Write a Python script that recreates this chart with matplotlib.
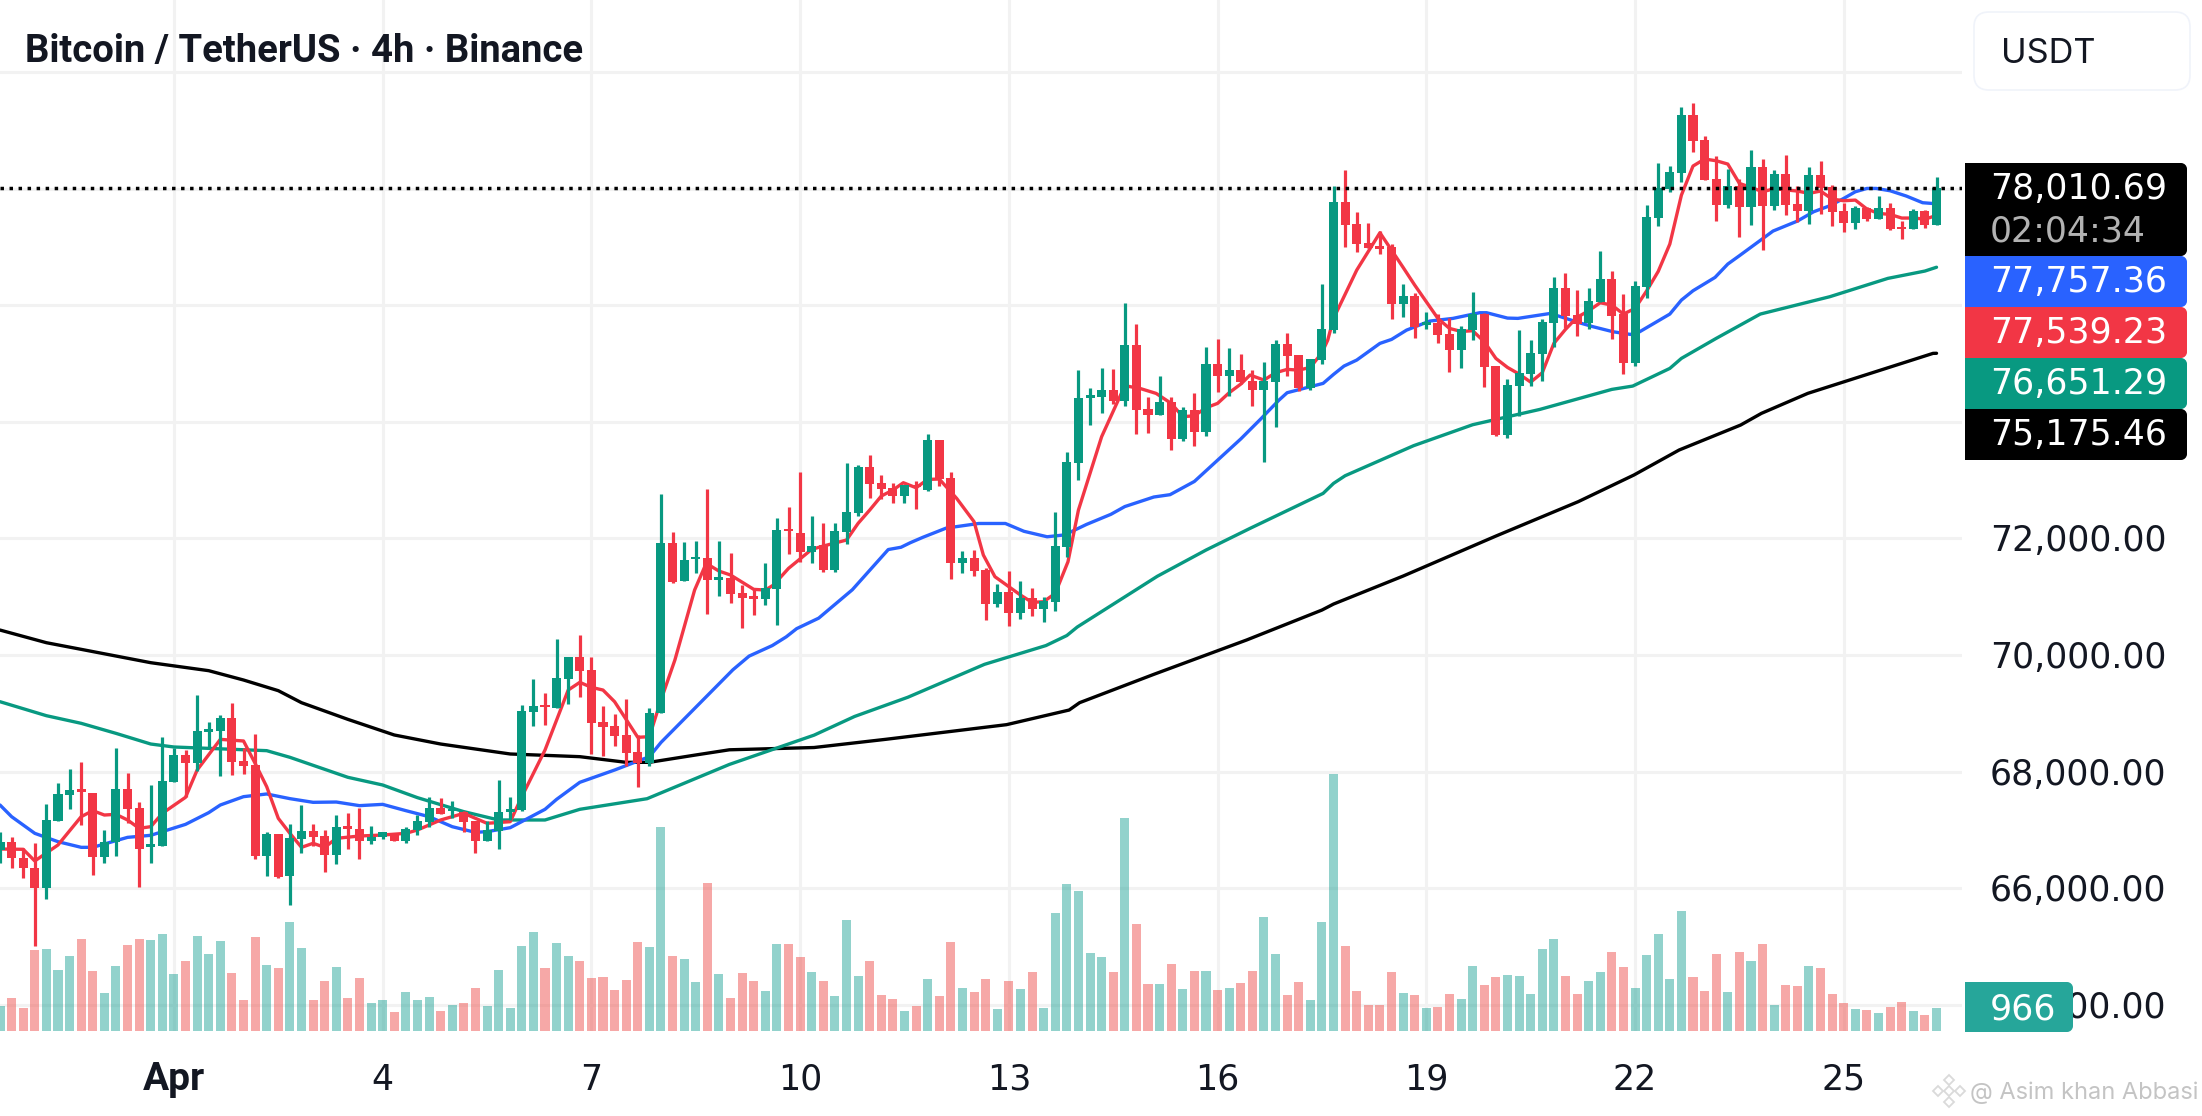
import matplotlib
matplotlib.use("Agg")
import matplotlib.pyplot as plt
from matplotlib.path import Path
from matplotlib.patches import PathPatch, Polygon, FancyBboxPatch

# ---------- candles (one value per 4h bar) ----------
opens = [66655,66798,66512,66341,65998,67158,67604,67696,67627,66541,66787,67701,67370,66712,66730,67827,68285,68153,68679,68702,
68925,68182,68113,66558,66930,66215,66850,66981,66895,66569,67067,67010,66815,66872,66953,66810,66998,67141,67375,67318,
67307,67153,66815,66975,67307,67341,69028,69136,69085,69588,69965,69742,68851,68782,68628,68336,68142,69005,71920,71274,
71640,71663,71292,71320,71063,71011,70960,71137,72166,72092,71766,71886,71457,72109,72435,73224,72949,72864,72727,72915,
72829,73687,73035,71577,71663,71463,70874,71080,70720,70977,70788,70908,71852,73292,74413,74424,74544,74356,75316,74218,
74116,74339,73704,74201,73824,74990,74784,74887,74699,74544,74682,75333,75145,74579,75059,75573,77769,77391,77065,77014,
76997,76019,76156,75665,75693,75505,75230,75573,75853,74956,73772,74613,74819,75162,75693,76294,75831,75693,76054,76448,
75848,75008,76311,77495,77992,78266,79261,78832,78164,77718,78044,77683,78369,77700,78249,77735,77615,78232,78021,77615,
77409,77666,77477,77666,77340,77306,77615,77375]
highs = [66970,66872,66684,66781,67444,67799,68044,68159,67627,67000,68399,67970,67484,67770,68588,68399,68370,69308,68856,68971,
69171,68399,68639,66958,66930,67101,67427,67101,66998,67255,67284,67375,67067,66970,66953,67044,67255,67570,67541,67496,
67330,67153,67158,67856,67558,69136,69588,69342,70268,69965,70343,69960,69125,68982,69245,68628,69096,72761,72109,71938,
71955,72847,71955,71749,71200,71126,71572,72343,72538,73138,72384,72263,72263,73293,73258,73430,73087,72949,72915,72984,
73790,73687,73138,71783,71800,71486,71217,71440,71269,71149,70994,72452,73481,74887,74579,74922,74905,76036,75676,74424,
74784,74424,74253,74493,75282,75419,75265,75162,74887,75025,75402,75522,75145,75076,76362,78043,78317,77597,77408,77271,
77048,76362,76208,75882,75848,75779,75642,76225,75865,74956,74733,75573,75402,75762,76482,76551,76259,76294,76928,76586,
76191,76414,77718,78438,78387,79398,79467,78901,78558,78335,78164,78661,78507,78318,78575,78044,78369,78472,78061,77752,
77700,77683,77872,77752,77443,77649,77632,78198]
lows = [66427,66341,66169,65014,65809,67158,67364,67084,66226,66427,66558,67113,66015,66438,66730,67827,67570,68016,68410,67930,
67947,67959,66507,66215,66181,65712,66609,66724,66284,66415,66672,66507,66758,66838,66815,66781,66912,67044,67273,67198,
66964,66609,66815,66672,67170,67330,68782,68799,69085,69159,69285,68302,68267,68439,68096,67741,68096,69005,71234,71274,
71412,70708,71017,70897,70468,70686,70863,70520,71732,71600,71583,71429,71429,71903,72389,72692,72675,72606,72606,72504,
72812,72898,71303,71406,71354,70600,70823,70497,70617,70668,70565,70754,71680,72999,73944,74150,74304,74270,73790,73807,
74116,73515,73670,73584,73755,74510,74441,74647,74270,73309,73910,74784,74527,74544,74990,75522,77003,76911,76980,76877,
75762,75796,75436,75590,75350,74853,74921,75402,74596,73755,73721,74098,74613,74699,75282,75608,75470,75590,76054,75419,
74819,74956,76123,77357,77941,78112,78627,78146,77443,77666,77169,77375,76946,77632,77546,77426,77392,77563,77357,77255,
77306,77443,77477,77289,77134,77306,77323,77375]
closes = [66798,66512,66341,65998,67170,67616,67684,67656,66541,66787,67701,67353,66678,66758,67839,68285,68153,68696,68731,68925,
68170,68102,66552,66930,66198,66861,66981,66884,66569,67044,67010,66815,66872,66958,66815,67016,67153,67375,67273,67353,
67141,66815,66998,67307,67353,69039,69125,69102,69605,69965,69731,68839,68765,68610,68313,68142,69000,71920,71257,71629,
71686,71292,71337,71051,70983,70966,71149,72143,72120,71766,71869,71457,72126,72452,73224,72932,72847,72727,72915,72881,
73687,73018,71577,71663,71434,70874,71080,70720,70977,70788,70926,71869,73310,74407,74459,74544,74356,75316,74201,74116,
74339,73704,74201,73824,74990,74784,74887,74682,74544,74699,75333,75128,74579,75076,75591,77769,77374,77048,76980,76963,
76019,76156,75625,75711,75488,75230,75590,75853,74939,73772,74630,74836,75179,75711,76294,75813,75676,76071,76448,75814,
75008,76328,77512,78009,78284,79261,78815,78146,77718,78044,77683,78369,77700,78249,77718,77615,78232,78009,77598,77409,
77666,77477,77666,77306,77300,77615,77375,78010.69]
volumes = [1036,1372,952,3388,3430,2548,3136,3850,2506,1582,2716,3598,3850,3808,4060,2380,2926,3976,3220,3766,
2422,1288,3934,2758,2632,4564,3472,1288,2086,2674,1372,2212,1162,1288,784,1624,1288,1414,826,1078,
1162,1792,1036,2548,952,3556,4144,2632,3682,3136,2926,2212,2254,1708,2128,3724,3514,8554,3136,3034,
2074,6221,2400,1402,2438,2112,1690,3667,3667,3110,2496,2112,1478,4666,2323,2957,1517,1344,845,1056,
2189,1478,3744,1824,1651,2189,941,2112,1766,2496,979,4973,6182,5894,3283,3110,2496,8928,4493,1978,
1978,2822,1766,2534,2534,1728,1824,2016,2520,4788,3234,1512,2058,1302,4578,10794,3570,1680,1092,1092,
2478,1596,1512,966,1008,1554,1344,2730,1932,2268,2352,2310,1554,3444,3864,2310,1554,2100,2478,3318,
2688,1806,3192,4074,2184,5040,2268,1680,3234,1638,3318,2940,3654,1092,1932,1890,2730,2646,1554,1176,
924,882,756,1008,1218,840,672,966]

# ---------- moving averages: bar number, price ----------
black_bar = [0,4,7,13,18,21,24,26,30,34,38,44,50,54,56,60,62.9,70.2,76.4,86.8,92.2,93.1,99.5,107.5,114,115,121,129,136.1,140.9,144.8,150.1,151.9,155.9,166.7,167]
black_px = [70428,70211,70097,69868,69731,69571,69388,69182,68896,68628,68473,68302,68256,68159,68159,68285,68374,68413,68554,68805,69056,69182,69668,70257,70771,70874,71354,72040,72630,73087,73516,73944,74145,74488,75174,75175.46]
green_bar = [0,4,7,10,13,15,23,25,30,33,36,40,43,47,50,55.8,62.9,70.2,73.7,78.3,84.9,90.2,92,92.9,99.8,104,107.8,114.1,115,116,121.9,127,132.8,139,140.8,144,145,148,151.8,157.8,162.8,166,167]
green_px = [69199,68959,68828,68656,68473,68422,68359,68245,67902,67770,67553,67313,67170,67170,67353,67535,68123,68625,68946,69276,69840,70162,70334,70480,71350,71800,72172,72772,72944,73075,73590,73950,74213,74556,74613,74916,75088,75431,75848,76146,76460,76586,76651.29]
blue_bar = [0,1,3,5,7,8,10,11,13,16,18,19,21,23,25,27,29,31,33,35,37,39,41,42,44,47,48,50,53,56,57,63.2,64.6,66.6,67.8,68.7,70.6,73.5,76.6,77.7,78.5,79.6,81.6,84.4,86.7,88.3,90.3,91.8,93.7,95.8,97,99.5,100.9,103,107,108.7,110.3,111,114.1,115,115.9,117,119,120,121.3,123.3,125.3,127.6,128.2,130,130.9,133.7,136.2,137.4,139.1,140.6,141.4,144,145,146,147.9,149,150,152.9,155,156.4,157.8,159,160,161,161.8,163,164.4,165.8,166.6,167]
blue_px = [67427,67227,66941,66798,66701,66701,66815,66872,66907,67095,67296,67427,67570,67616,67536,67473,67478,67416,67438,67330,67227,67055,66958,66970,67038,67353,67524,67816,68027,68256,68500,69746,69981,70162,70311,70452,70632,71119,71809,71848,71926,72020,72177,72256,72256,72122,72028,72060,72240,72413,72546,72710,72750,72977,73706,74044,74373,74499,74659,74813,74956,75059,75345,75413,75573,75728,75774,75871,75871,75779,75774,75859,75699,75630,75545,75499,75545,75848,76088,76248,76477,76706,76849,77272,77443,77603,77706,77832,77946,78003,78003,77963,77872,77758,77746,77757.36]
red_bar = [0,2,3,5,7,8,9,10,11,12,13,14,16,17,19,21,22,23,24,25,26,27,28,29,31,33,35,36,38,40,42,44,45,47,49,50,51,52,53,55,56,57,58.2,59.9,60.9,62,63,65,66,66.7,68,70,71,73,74,75,76,77,77.9,79,80,81,82.5,84,84.8,85.8,88,89,90,91,92.1,93,95,97,98.3,99.7,101,102,103,104,105,106,107,107.8,109,110,111,112,113,114,114.5,115,117,119,121,122,124,125,126,127,128,129,130,131,132,133,134,135,136,137,138,139,140,141,142,143,144,145,146,147,148,149,150,151,152,153,155,156,157,158,159,160,161,162,163,164,165,166,167]
red_px = [66672,66667,66467,66741,67227,67330,67255,67267,67170,67027,67055,67284,67559,68027,68553,68525,68142,67741,67198,66941,66701,66770,66701,66855,66895,66912,66941,66998,67170,67284,67113,67141,67570,68370,69399,69531,69445,69399,69199,68588,68599,69228,69914,71114,71572,71440,71372,71126,71114,71200,71486,71812,71869,71972,72258,72486,72727,72829,72955,72869,73012,73018,72686,72286,71715,71343,71029,70903,70914,71057,71600,72486,73744,74619,74573,74487,74316,74087,74104,74241,74316,74499,74647,74802,74716,74842,74899,74887,74933,75185,75402,75773,76602,77243,76648,76345,75773,75602,75550,75562,75373,75087,74933,74819,74681,74842,75345,75585,75791,75905,76042,76002,75848,75945,76245,76580,77049,77889,78387,78507,78478,78421,78089,78021,77946,77998,77958,77918,77958,77820,77792,77803,77649,77575,77557,77495,77495,77477,77539.23]

# ---------- axis text ----------
date_bars = [15,33,51,69,87,105,123,141,159]
date_labels = ["Apr","4","7","10","13","16","19","22","25"]
price_ticks = [80000,78000,76000,74000,72000,70000,68000,66000,64000]
shown_price_labels = [72000,70000,68000,66000,64000]
last_price = 78010.69

TEAL = "#089981"; RED = "#F23645"; BLUE = "#2962FF"; INK = "#131722"; GRID = "#F2F2F2"
W, H = 2202, 1116
px_w = 1962; px_h = 1031
rect = [0, 1-px_h/H, px_w/W, px_h/H]
fig = plt.figure(figsize=(W/100, H/100), dpi=100, facecolor="white")
xlim = (0, px_w/11.596)
ylim = (70000+(655-1031)*17.153, 70000+655*17.153)

# grid sits at the very back, so that the translucent volume bars lie over it
axg = fig.add_axes(rect, zorder=0)
axg.set_xlim(*xlim); axg.set_ylim(*ylim)
for s in axg.spines.values():
    s.set_visible(False)
axg.set_xticks(date_bars); axg.set_xticklabels([])
axg.set_yticks(price_ticks); axg.set_yticklabels([])
axg.tick_params(length=0)
axg.grid(True, color=GRID, lw=2.2)

bars = range(len(opens))
up = [c >= o for o, c in zip(opens, closes)]
cols = [TEAL if u else RED for u in up]
vol_cols = ["#26A69A" if u else "#EF5350" for u in up]

axv = fig.add_axes(rect, zorder=1)
axv.patch.set_alpha(0)
axv.set_xlim(*xlim); axv.set_ylim(0, px_h*42)
axv.set_xticks([]); axv.set_yticks([])
for s in axv.spines.values():
    s.set_visible(False)
axv.bar(bars, volumes, width=0.78, color=vol_cols, alpha=0.5, lw=0)

ax = fig.add_axes(rect, zorder=2)
ax.patch.set_alpha(0)
ax.set_xlim(*xlim); ax.set_ylim(*ylim)
ax.set_xticks([]); ax.set_yticks([])
for s in ax.spines.values():
    s.set_visible(False)

lw = 2.4
ax.plot(black_bar, black_px, color="black", lw=lw, zorder=2, solid_capstyle="round")
ax.plot(green_bar, green_px, color=TEAL, lw=lw, zorder=2.1, solid_capstyle="round")
ax.plot(blue_bar, blue_px, color=BLUE, lw=lw, zorder=2.2, solid_capstyle="round")
ax.plot(red_bar, red_px, color=RED, lw=lw, zorder=2.3, solid_capstyle="round")

ax.vlines(bars, lows, highs, colors=cols, lw=2.3, zorder=3)
ax.bar(bars, [abs(c-o) for o, c in zip(opens, closes)], bottom=[min(o, c) for o, c in zip(opens, closes)],
       width=0.78, color=cols, lw=0, zorder=3.1)
ax.plot([0, px_w/11.596], [last_price, last_price], color="black", lw=2.5,
        linestyle=(0, (1, 1.6)), dash_capstyle="butt", zorder=4)

# page layer in pixels for the price scale, boxes and captions
pg = fig.add_axes([0, 0, 1, 1], zorder=10)
pg.set_xlim(0, W); pg.set_ylim(H, 0); pg.axis("off"); pg.patch.set_alpha(0)

def tag(x0, x1, y0, y1, color, r=6):
    k = 0.55*r
    v = [(x0,y0),(x1-r,y0),(x1-r+k,y0),(x1,y0+r-k),(x1,y0+r),(x1,y1-r),(x1,y1-r+k),(x1-r+k,y1),(x1-r,y1),(x0,y1),(x0,y0)]
    c = [Path.MOVETO,Path.LINETO,Path.CURVE4,Path.CURVE4,Path.CURVE4,Path.LINETO,Path.CURVE4,Path.CURVE4,Path.CURVE4,Path.LINETO,Path.CLOSEPOLY]
    pg.add_patch(PathPatch(Path(v, c), fc=color, ec="none", zorder=2))

NUM = "DejaVu Sans"; FS = 25
def lab(x, y, s, color=INK, z=3, **kw):
    kw.setdefault("fontsize", FS); kw.setdefault("family", NUM)
    pg.text(x, y, s, color=color, va="baseline", zorder=z, **kw)

for p in shown_price_labels:
    yy = 655-(p-70000)/17.153
    lab(1990, yy+13, f"{p:,.2f}", z=1)

tag(1965, 2187, 163, 256, "#000000")
tag(1965, 2187, 256, 307, BLUE)
tag(1965, 2187, 307, 358, RED)
tag(1965, 2187, 358, 409, TEAL)
tag(1965, 2187, 409, 460, "#000000")
tag(1965, 2073, 982, 1032, "#26A69A")
lab(1990, 199, "78,010.69", "white")
lab(1990, 241, "02:04:34", "#B2B2B2")
lab(1990, 292, "77,757.36", "white")
lab(1990, 343, "77,539.23", "white")
lab(1990, 394, "76,651.29", "white")
lab(1990, 445, "75,175.46", "white")
lab(1990, 1020, f"{volumes[-1]:,}", "white")

pg.add_patch(FancyBboxPatch((1974+15, 12+15), 216-30, 78-30, boxstyle="round,pad=15,rounding_size=15",
                            fc="white", ec="#F0F3FA", lw=1.2, zorder=2))
lab(2001, 63, "USDT", family="Inter", fontsize=24.8)
lab(25, 62.5, "Bitcoin / TetherUS · 4h · Binance", family="Roboto", fontsize=27.5, fontweight="bold")

for b, s in zip(date_bars, date_labels):
    is_month = s == "Apr"
    pg.text(b*11.596, 1089.5, s, color=INK, ha="center", va="baseline",
            fontsize=28 if is_month else FS, family="Roboto" if is_month else NUM,
            fontweight="bold" if is_month else "normal", zorder=3)

# watermark
GR = "#C4C4C4"
cx, cy = 1949, 1091
for dx, dy, r in [(0,-11,5),(-11,0,5),(11,0,5),(0,11,5),(0,0,5)]:
    pg.add_patch(Polygon([(cx+dx, cy+dy-r),(cx+dx+r, cy+dy),(cx+dx, cy+dy+r),(cx+dx-r, cy+dy)], closed=True,
                         fc="white", ec="#DADADA", lw=1.3, zorder=3))
lab(1970, 1099, "@ Asim khan Abbasi", GR, fontsize=17, family="Inter")

fig.savefig("out.png", dpi=100, facecolor="white")
